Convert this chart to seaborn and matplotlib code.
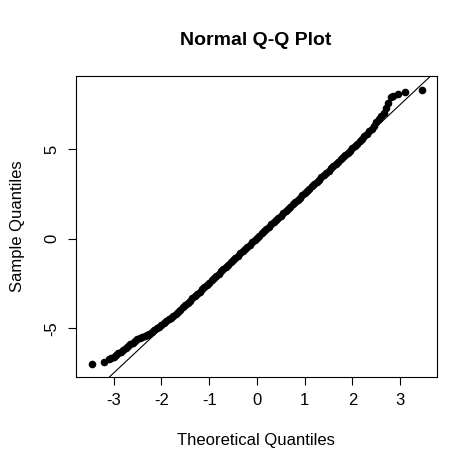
import matplotlib
matplotlib.use("Agg")
import matplotlib.pyplot as plt
import seaborn as sns
import numpy as np

theoretical = [-3.45, -3.2, -3.1, -3.05, -3.0, -2.95, -2.9, -2.85, -2.8, -2.75, -2.7, -2.65, -2.6, -2.55,
               -2.5, -2.45, -2.4, -2.35, -2.3, -2.25, -2.2, -2.15, -2.1, -2.05, -2.0, -1.95,
               -1.9, -1.85, -1.8, -1.75, -1.7, -1.65, -1.6, -1.55, -1.5, -1.45, -1.4, -1.35, -1.3, -1.25,
               -1.2, -1.15, -1.1, -1.05, -1.0, -0.95, -0.9, -0.85, -0.8, -0.75, -0.7, -0.65, -0.6, -0.55,
               -0.5, -0.45, -0.4, -0.35, -0.3, -0.25, -0.2, -0.15, -0.1, -0.05, 0.0, 0.05, 0.1, 0.15,
               0.2, 0.25, 0.3, 0.35, 0.4, 0.45, 0.5, 0.55, 0.6, 0.65, 0.7, 0.75, 0.8, 0.85, 0.9, 0.95,
               1.0, 1.05, 1.1, 1.15, 1.2, 1.25, 1.3, 1.35, 1.4, 1.45, 1.5, 1.55, 1.6, 1.65, 1.7, 1.75,
               1.8, 1.85, 1.9, 1.95, 2.0, 2.05, 2.1, 2.15, 2.2, 2.25, 2.3, 2.35, 2.4, 2.45, 2.5, 2.55,
               2.6, 2.65, 2.7, 2.75, 2.8, 2.85, 2.95, 3.1, 3.45]
sample = [-7.0, -6.9, -6.7, -6.65, -6.6, -6.5, -6.4, -6.3, -6.2, -6.1, -6.0, -5.9, -5.8, -5.7,
          -5.6, -5.55, -5.5, -5.45, -5.4, -5.3, -5.2, -5.1, -5.0, -4.9, -4.8, -4.7,
          -4.6, -4.5, -4.4, -4.3, -4.2, -4.07, -3.95, -3.82, -3.7, -3.57, -3.45, -3.32, -3.2, -3.07,
          -2.95, -2.82, -2.7, -2.57, -2.45, -2.32, -2.2, -2.07, -1.95, -1.82, -1.7, -1.57, -1.45, -1.32,
          -1.2, -1.07, -0.95, -0.82, -0.7, -0.57, -0.45, -0.32, -0.2, -0.07, 0.05, 0.18, 0.3, 0.43,
          0.55, 0.68, 0.8, 0.93, 1.05, 1.18, 1.3, 1.43, 1.55, 1.68, 1.8, 1.93, 2.05, 2.18, 2.3, 2.43,
          2.55, 2.68, 2.8, 2.93, 3.05, 3.18, 3.3, 3.43, 3.55, 3.68, 3.8, 3.93, 4.05, 4.18, 4.3, 4.43,
          4.55, 4.68, 4.8, 4.93, 5.05, 5.18, 5.3, 5.45, 5.6, 5.72, 5.85, 6.0, 6.15, 6.32, 6.5, 6.67,
          6.85, 7.05, 7.3, 7.6, 7.9, 8.0, 8.1, 8.2, 8.3]

sns.set_style("white")
plt.rcParams['font.family'] = ['Liberation Sans', 'DejaVu Sans']
plt.rcParams['axes.unicode_minus'] = False
plt.rcParams['text.color'] = 'black'
plt.rcParams['axes.labelcolor'] = 'black'
plt.rcParams['xtick.color'] = 'black'
plt.rcParams['ytick.color'] = 'black'

fig = plt.figure(figsize=(4.74, 4.74), dpi=100)
ax = fig.add_axes([0.16, 0.205, 0.762, 0.635])
sns.scatterplot(x=theoretical, y=sample, ax=ax, color='black', s=30, edgecolor='black', linewidth=0)

slope, inter = 2.5, 0.0
xs = np.array([-4, 4])
ax.plot(xs, inter + slope * xs, color='black', lw=0.8)

ax.set_xlim(-3.79, 3.77)
ax.set_ylim(-7.71, 9.1)
ax.set_xticks([-3, -2, -1, 0, 1, 2, 3])
ax.set_yticks([-5, 0, 5])
ax.tick_params(axis='both', length=6, width=0.8, color='black', labelsize=12, direction='out',
               bottom=True, left=True, pad=6)
for lab in ax.get_yticklabels():
    lab.set_rotation(90)
    lab.set_va('center')
for s in ax.spines.values():
    s.set_color('black')
    s.set_linewidth(0.8)
ax.set_xlabel('Theoretical Quantiles', fontsize=12, labelpad=18)
ax.set_ylabel('Sample Quantiles', fontsize=12, labelpad=14)
fig.text(0.54, 0.915, 'Normal Q-Q Plot', ha='center', va='center', fontsize=14, fontweight='bold')
fig.savefig('out.png', dpi=100)
